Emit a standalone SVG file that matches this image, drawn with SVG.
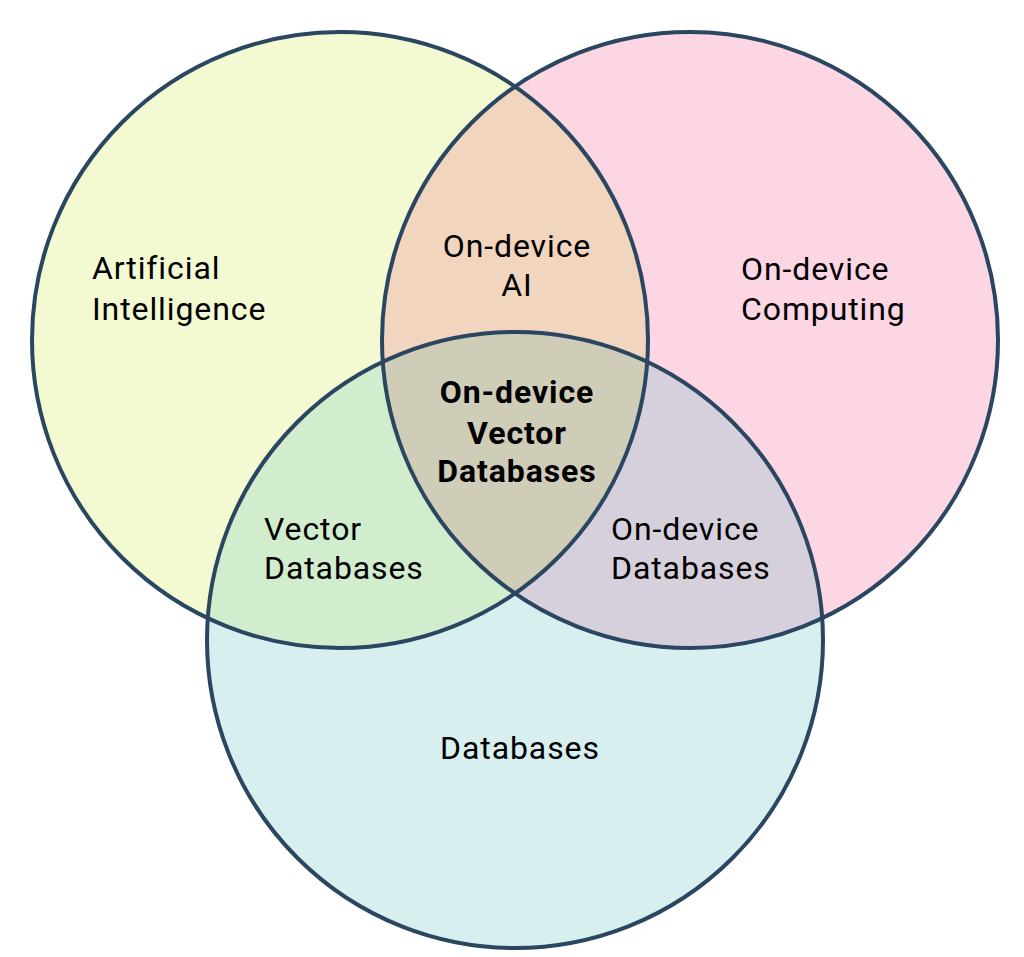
<svg xmlns="http://www.w3.org/2000/svg" width="1024" height="957" viewBox="0 0 1024 957">
  <style>
    .lbl { font-family: Roboto, "Liberation Sans", sans-serif; font-size: 32px; letter-spacing: 0.9px; fill: #000; }
    .bold { font-weight: bold; }
    .mid { text-anchor: middle; }
    .ring { fill: none; stroke: #2A4660; stroke-width: 4; }
  </style>
  <defs>
    <clipPath id="clipL"><circle cx="340" cy="340" r="308"/></clipPath>
    <clipPath id="clipR"><circle cx="690" cy="340" r="308"/></clipPath>
    <clipPath id="clipB"><circle cx="515" cy="640" r="308"/></clipPath>
  </defs>
  <rect width="1024" height="957" fill="#ffffff"/>
  <g id="set-ai">
    <circle cx="340" cy="340" r="308" fill="#F3FAD2"/>
  </g>
  <g id="set-computing">
    <circle cx="690" cy="340" r="308" fill="#FCD6E3"/>
  </g>
  <g id="set-databases">
    <circle cx="515" cy="640" r="308" fill="#D8EFF0"/>
  </g>
  <g id="overlap-ondevice-ai">
    <circle cx="690" cy="340" r="308" fill="#F2D5BF" clip-path="url(#clipL)"/>
  </g>
  <g id="overlap-vector-db">
    <circle cx="515" cy="640" r="308" fill="#D1EDCD" clip-path="url(#clipL)"/>
  </g>
  <g id="overlap-ondevice-db">
    <circle cx="515" cy="640" r="308" fill="#D6D0DC" clip-path="url(#clipR)"/>
  </g>
  <g id="overlap-center" clip-path="url(#clipR)">
    <circle cx="515" cy="640" r="308" fill="#CFCCB8" clip-path="url(#clipL)"/>
  </g>
  <g id="outlines">
    <circle class="ring" cx="340" cy="340" r="308"/>
    <circle class="ring" cx="690" cy="340" r="308"/>
    <circle class="ring" cx="515" cy="640" r="308"/>
  </g>
  <g id="labels">
    <text class="lbl" x="92" y="279">Artificial</text>
    <text class="lbl" x="92" y="320">Intelligence</text>
    <text class="lbl mid" x="517" y="257">On-device</text>
    <text class="lbl mid" x="517" y="296">AI</text>
    <text class="lbl" x="741" y="280">On-device</text>
    <text class="lbl" x="741" y="320">Computing</text>
    <text class="lbl bold mid" x="517" y="403">On-device</text>
    <text class="lbl bold mid" x="517" y="444">Vector</text>
    <text class="lbl bold mid" x="517" y="482">Databases</text>
    <text class="lbl" x="264" y="540">Vector</text>
    <text class="lbl" x="264" y="579">Databases</text>
    <text class="lbl" x="611" y="540">On-device</text>
    <text class="lbl" x="611" y="579">Databases</text>
    <text class="lbl mid" x="520" y="759">Databases</text>
  </g>
</svg>
